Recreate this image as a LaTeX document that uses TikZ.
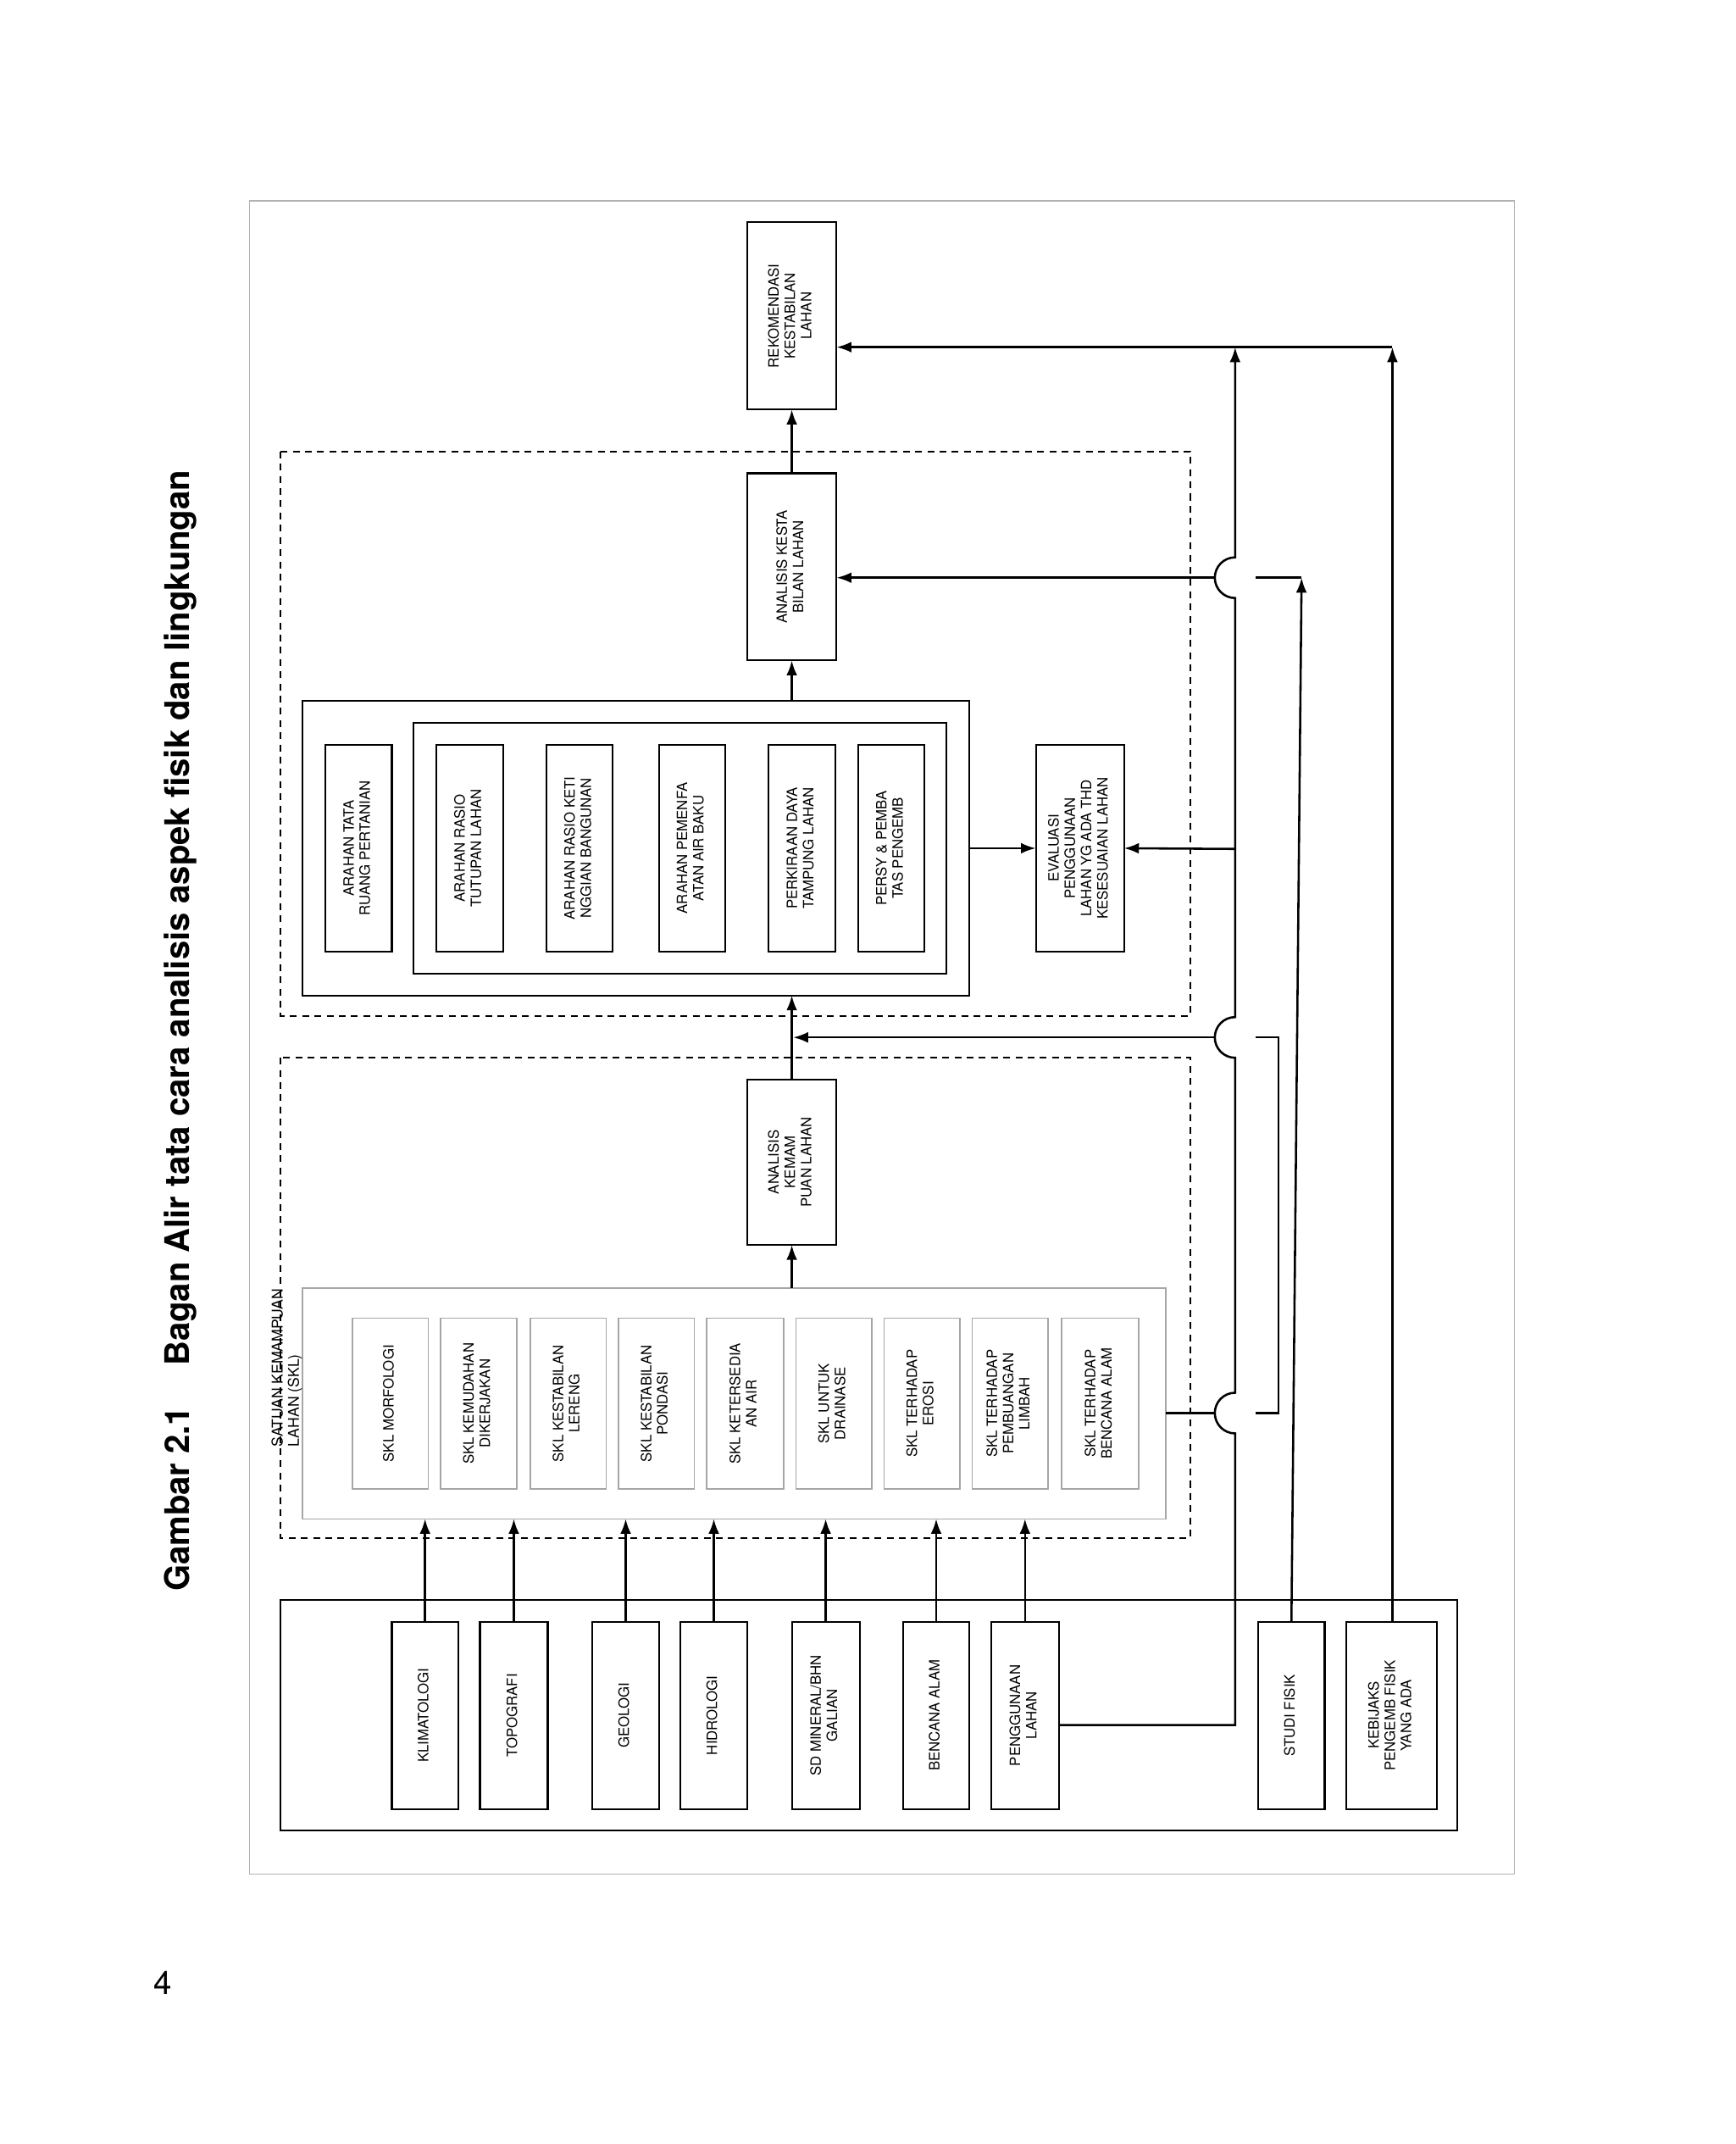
\documentclass[tikz,border=0pt]{standalone}
\usepackage{fontspec}
\setmainfont{TeX Gyre Heros}
\usetikzlibrary{arrows.meta}
\newcommand\bx[7][]{\node[box,#1,minimum width={(#5-#3)*1pt},minimum height={(#6-#4)*1pt}] (#2) at ({(#3+#5)/2},{(#4+#6)/2}) {\rotatebox{90}{\begin{tabular}{@{}c@{}}#7\end{tabular}}};}
\begin{document}
\begin{tikzpicture}[x=1pt,y=-1pt,
  box/.style={draw,line width=1.3pt,inner sep=0pt,outer sep=0pt,font=\fontsize{10.5}{12}\selectfont},
  gbox/.style={box,draw=black!35,line width=1pt},
  dashbox/.style={draw,line width=1.3pt,dash pattern=on 5pt off 4pt},
  arr/.style={line width=1.6pt,-{Latex[length=11pt,width=8pt]}},
  ln/.style={line width=1.6pt}]
\useasboundingbox (0,0) rectangle (1280,1581);
\draw[black!30,line width=1pt] (184,148) rectangle (1117,1382);
\node[rotate=90,font=\fontsize{25}{30}\selectfont\bfseries] (title) at (133,760) {Gambar 2.1\hspace{30pt}Bagan Alir tata cara analisis aspek fisik dan lingkungan};
\node[font=\fontsize{24}{28}\selectfont] (pg) at (120,1462) {4};
% bottom
\bx{inp}{207}{1180}{1075}{1350}{}
\bx{klim}{289}{1196}{338}{1334}{KLIMATOLOGI}
\bx{topo}{354}{1196}{404}{1334}{TOPOGRAFI}
\bx{geo}{437}{1196}{486}{1334}{GEOLOGI}
\bx{hid}{502}{1196}{551}{1334}{HIDROLOGI}
\bx{sd}{584}{1196}{634}{1334}{SD MINERAL/BHN\\GALIAN}
\bx{ben}{666}{1196}{715}{1334}{BENCANA ALAM}
\bx{peng}{731}{1196}{781}{1334}{PENGGUNAAN\\LAHAN}
\bx{stud}{928}{1196}{977}{1334}{STUDI FISIK}
\bx{keb}{993}{1196}{1060}{1334}{KEBIJAKS\\PENGEMB FISIK\\YANG ADA}
% dashed
\draw[dashbox] (207,780) rectangle (878,1134);
\draw[dashbox] (207,333) rectangle (878,749);
% SKL
\bx[gbox]{skl}{223}{950}{860}{1120}{}
\node[rotate=90,anchor=south east,inner sep=0pt,font=\fontsize{11}{12}\selectfont,align=left] (skllab) at (223,950) {SATUAN KEMAMPUAN\\LAHAN (SKL)};
\bx[gbox]{s1}{260}{972}{316}{1098}{SKL MORFOLOGI}
\bx[gbox]{s2}{325}{972}{381}{1098}{SKL KEMUDAHAN\\DIKERJAKAN}
\bx[gbox]{s3}{391}{972}{447}{1098}{SKL KESTABILAN\\LERENG}
\bx[gbox]{s4}{456}{972}{512}{1098}{SKL KESTABILAN\\PONDASI}
\bx[gbox]{s5}{521}{972}{578}{1098}{SKL KETERSEDIA\\AN AIR}
\bx[gbox]{s6}{587}{972}{643}{1098}{SKL UNTUK\\DRAINASE}
\bx[gbox]{s7}{652}{972}{708}{1098}{SKL TERHADAP\\EROSI}
\bx[gbox]{s8}{717}{972}{773}{1098}{SKL TERHADAP\\PEMBUANGAN\\LIMBAH}
\bx[gbox]{s9}{783}{972}{840}{1098}{SKL TERHADAP\\BENCANA ALAM}
\foreach \n in {klim,topo,geo,hid,sd,ben,peng}
  \draw[arr] (\n.north) -- (\n.north |- skl.south);
\bx{akem}{551}{796}{617}{918}{ANALISIS\\KEMAM\\PUAN LAHAN}
\draw[arr] (skl.north -| akem) -- (akem.south);
% arahan
\bx{aro}{223}{517}{715}{734}{}
\bx{ari}{305}{533}{698}{718}{}
\bx{a0}{240}{549}{289}{702}{ARAHAN TATA\\RUANG PERTANIAN}
\bx{a1}{322}{549}{371}{702}{ARAHAN RASIO\\TUTUPAN LAHAN}
\bx{a2}{403}{549}{452}{702}{ARAHAN RASIO KETI\\NGGIAN BANGUNAN}
\bx{a3}{486}{549}{535}{702}{ARAHAN PEMENFA\\ATAN AIR BAKU}
\bx{a4}{567}{549}{616}{702}{PERKIRAAN DAYA\\TAMPUNG LAHAN}
\bx{a5}{633}{549}{682}{702}{PERSY \& PEMBA\\TAS PENGEMB}
\bx{eval}{764}{549}{829}{702}{EVALUASI\\PENGGUNAAN\\LAHAN YG ADA THD\\KESESUAIAN LAHAN}
\draw[arr] (akem.north) -- (akem.north |- aro.south);
\draw[arr] (aro.east) -- (eval.west);
\bx{akes}{551}{349}{617}{487}{ANALISIS KESTA\\BILAN LAHAN}
\draw[arr] (aro.north -| akes) -- (akes.south);
\bx{rek}{551}{164}{617}{302}{REKOMENDASI\\KESTABILAN\\LAHAN}
\draw[arr] (akes.north) -- (rek.south);
% feedback lines
\coordinate (j1) at (943,1042);
\coordinate (j2) at (943,765);
\coordinate (j3) at (585,765);
\draw[ln] (skl.east |- j1) -- (896,1042);
\draw[ln] (926,1042) -- (j1) -- (j2) -- (926,765);
\draw[arr] (896,765) -- (j3);
\coordinate (p1) at (911,1272);
\coordinate (p2) at (911,256);
\draw[arr] (peng.east |- p1) -- (p1) -- (911,1057) arc[start angle=270,end angle=90,radius=15pt]
  -- (911,780) arc[start angle=270,end angle=90,radius=15pt]
  -- (911,441) arc[start angle=270,end angle=90,radius=15pt] -- (p2);
\coordinate (e1) at (911,626);
\draw[arr] (e1) -- (eval.east);
\coordinate (st) at (960,426);
\draw[arr] (stud.north) -- (st);
\draw[ln] (st) -- (926,426);
\draw[arr] (896,426) -- (akes.east |- st);
\coordinate (kb) at (1027,256);
\draw[arr] (keb.north -| kb) -- (kb);
\draw[arr] (kb) -- (rek.east |- kb);
\end{tikzpicture}
\end{document}
